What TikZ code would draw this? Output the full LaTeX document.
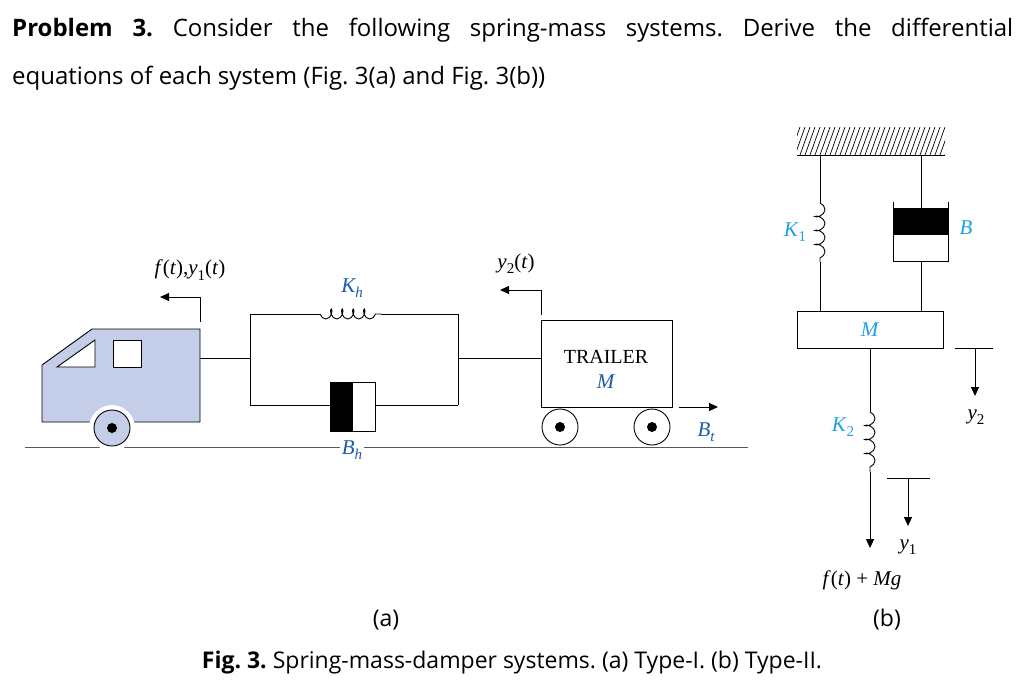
\documentclass[tikz,border=0pt]{standalone}
\usepackage{fontspec}
\setmainfont{Open Sans}
\newfontfamily\tms{Liberation Serif}
\usetikzlibrary{decorations.pathmorphing,arrows.meta}
\definecolor{truck}{RGB}{196,206,232}
\definecolor{lblue}{RGB}{30,90,170}
\definecolor{cblue}{RGB}{30,160,225}
\newcommand{\iv}[1]{\textit{#1}}
\newcommand{\sbs}[1]{\raisebox{-0.25em}{\fontsize{15}{15}\selectfont #1}}
\frenchspacing
\begin{document}
\begin{tikzpicture}[x=1pt,y=-1pt,
  ln/.style={line width=0.9pt},
  arr/.style={line width=0.9pt,-{Triangle[length=9pt,width=8pt]}},
  lab/.style={font=\tms\fontsize{21}{21}\selectfont},
  captxt/.style={font=\fontsize{23}{23}\selectfont}]
\useasboundingbox (0,0) rectangle (1024,694);
% title
\node[anchor=base west,inner sep=0,font=\fontsize{24}{26}\selectfont] (t1) at (12,36)
 {\makebox[1001pt][s]{\textbf{Problem 3.} Consider the following spring-mass systems. Derive the differential}};
\node[anchor=base west,inner sep=0,font=\fontsize{24}{26}\selectfont] (t2) at (12,84)
 {equations of each system (Fig. 3(a) and Fig. 3(b))};
% ground
\draw[line width=0.8pt,gray!70!black] (25,447) coordinate (g1) -- (748,447) coordinate (g2);
% truck
\draw[ln,fill=truck] (92,329) -- (200,329) -- (200,422) -- (42,422) -- (42,365) -- cycle;
\fill[white] (112,428) circle (23);
\draw[ln,fill=truck] (112,428) circle (18);
\fill (112,428) circle (5);
\draw[ln,fill=white] (57,367) -- (95,340) -- (95,367) -- cycle;
\draw[ln,fill=white] (113,340) rectangle (141,367);
\coordinate (tr) at (200,358);
\draw[arr] (200,322) -- (200,297) -- (160,297);
\node[lab] (fy) at (190,270) {\iv{f}(\iv{t}),\iv{y}\sbs{1}(\iv{t})};
% coupling
\coordinate (jl) at (250,358);
\coordinate (jr) at (458,358);
\draw[ln] (tr) -- (jl);
\draw[ln] (250,314) -- (250,405);
\draw[ln] (458,314) -- (458,405);
\draw[ln] (250,314) -- (320,314);
\draw[ln,decorate,decoration={coil,aspect=0.6,segment length=11pt,amplitude=5pt,mirror}] (320,314) -- (381,314);
\draw[ln] (381,314) -- (458,314);
\node[lab,text=lblue] (kh) at (352,288) {\iv{K\sbs{h}}};
\draw[ln] (250,405) -- (330,405);
\draw[ln] (375,405) -- (458,405);
\fill (330,382) rectangle (353,431);
\draw[ln] (330,382) rectangle (375,431);
\node[lab,text=lblue,fill=white,inner sep=2pt] (bh) at (352,450) {\iv{B\sbs{h}}};
\draw[ln] (jr) -- (541,358);
% trailer
\draw[ln] (541,320) rectangle (672,407);
\node[font=\tms\fontsize{20}{20}\selectfont] (trl) at (606,357) {TRAILER};
\node[lab,text=lblue] (tm) at (606,382) {\iv{M}};
\foreach \x in {560,652}{\draw[ln,fill=white] (\x,427) circle (18); \fill (\x,427) circle (5);}
\draw[arr] (541,315) -- (541,290) -- (500,290);
\node[lab] (y2t) at (516,264) {\iv{y}\sbs{2}(\iv{t})};
\draw[arr] (679,407) -- (718,407);
\node[lab,text=lblue] (bt) at (706,432) {\iv{B\sbs{t}}};
% fig b
\begin{scope}
\clip (797,127) rectangle (945,155);
\foreach \i in {0,5,...,160}{\draw[line width=0.7pt] (790+\i,155) -- (800+\i,127);}
\end{scope}
\draw[ln] (797,155) -- (945,155);
\draw[ln] (820,155) -- (820,203);
\draw[ln,decorate,decoration={coil,aspect=0.6,segment length=14pt,amplitude=5pt}] (820,203) -- (820,262);
\draw[ln] (820,262) -- (820,311);
\node[lab,text=cblue] (k1) at (795,232) {\iv{K}\sbs{1}};
\draw[ln] (921,155) -- (921,208);
\fill (893,208) rectangle (948,235);
\draw[ln] (893,202) -- (893,261) -- (948,261) -- (948,202);
\draw[ln] (921,261) -- (921,311);
\node[lab,text=cblue] (bb) at (966,228) {\iv{B}};
\draw[ln] (797,311) rectangle (943,348);
\node[lab,text=cblue] (mm) at (870,330) {\iv{M}};
\draw[ln] (870,348) -- (870,412);
\draw[ln,decorate,decoration={coil,aspect=0.6,segment length=14pt,amplitude=5pt}] (870,412) -- (870,472);
\draw[arr] (870,472) -- (870,548);
\node[lab,text=cblue] (k2) at (843,427) {\iv{K}\sbs{2}};
\node[lab] (fmg) at (862,580) {\iv{f}(\iv{t}) + \iv{Mg}};
\draw[ln] (955,348) -- (993,348);
\draw[arr] (975,348) -- (975,396);
\node[lab] (y2) at (976,417) {\iv{y}\sbs{2}};
\draw[ln] (887,478) -- (930,478);
\draw[arr] (908,478) -- (908,526);
\node[lab] (y1) at (908,547) {\iv{y}\sbs{1}};
% captions
\node[captxt] (ca) at (386,620) {(a)};
\node[captxt] (cb) at (887,620) {(b)};
\node[captxt] (cf) at (512,663) {\textbf{Fig. 3.} Spring-mass-damper systems. (a) Type-I. (b) Type-II.};
\end{tikzpicture}
\end{document}
